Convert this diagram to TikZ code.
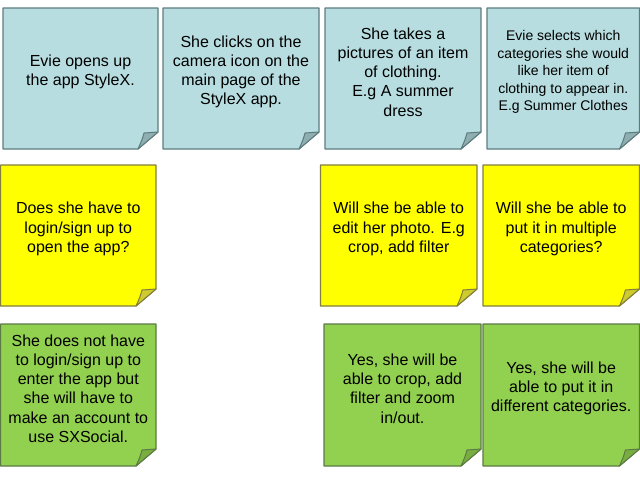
\documentclass[tikz,border=0pt]{standalone}
\usepackage{fontspec}
\setmainfont{Liberation Sans}
\definecolor{bluefill}{HTML}{B7DDE0}
\definecolor{bluefold}{HTML}{8FAEB1}
\definecolor{blueedge}{HTML}{5E7C7E}
\definecolor{yelfill}{HTML}{FFFF00}
\definecolor{yelfold}{HTML}{CDCB2E}
\definecolor{yeledge}{HTML}{827E3C}
\definecolor{grnfill}{HTML}{92D050}
\definecolor{grnfold}{HTML}{78AE40}
\definecolor{grnedge}{HTML}{5C7A46}
\tikzset{
  bluebody/.style={fill=bluefill,draw=blueedge,line width=1.2pt,line join=round},
  bluefoldst/.style={fill=bluefold,draw=blueedge,line width=1pt,line join=round},
  yelbody/.style={fill=yelfill,draw=yeledge,line width=1.2pt,line join=round},
  yelfoldst/.style={fill=yelfold,draw=yeledge,line width=1pt,line join=round},
  grnbody/.style={fill=grnfill,draw=grnedge,line width=1.2pt,line join=round},
  grnfoldst/.style={fill=grnfold,draw=grnedge,line width=1pt,line join=round},
  notetext/.style={align=center,inner sep=0pt,text=black,font=\fontsize{16}{19.2}\selectfont},
  smalltext/.style={align=center,inner sep=0pt,text=black,font=\fontsize{14}{17.5}\selectfont}
}
\newcommand{\stickynote}[8]{%
  \draw[#6body] ({#2},{#3}) -- ({#4},{#3}) -- ({#4},{#5-17}) -- ({#4-20},{#5}) -- ({#2},{#5}) -- cycle;
  \draw[#6foldst] ({#4-20},{#5}) .. controls ({#4-16},{#5-9}) .. ({#4-14},{#5-16}) -- ({#4},{#5-17}) -- cycle;
  \node[#7] (#1) at ({(#2+#4)/2},{(#3+#5)/2-6.5}) {#8};
}
\begin{document}
\begin{tikzpicture}[x=1pt,y=-1pt]
\useasboundingbox (0,0) rectangle (640,480);
\fill[white] (0,0) rectangle (640,480);
% row 1
\stickynote{b1}{3}{8}{158}{149}{blue}{notetext}{Evie opens up\\the app StyleX.}
\stickynote{b2}{163}{8}{319}{149}{blue}{notetext}{She clicks on the\\camera icon on the\\main page of the\\StyleX app.}
\stickynote{b3}{325}{8}{481}{149}{blue}{notetext}{She takes a\\pictures of an item\\of clothing.\\E.g A summer\\dress}
\stickynote{b4}{487}{8}{639.5}{149}{blue}{smalltext}{Evie selects which\\categories she would\\like her item of\\clothing to appear in.\\E.g Summer Clothes}
% row 2
\stickynote{y1}{0.6}{165}{156}{306}{yel}{notetext}{Does she have to\\login/sign up to\\open the app?}
\stickynote{y2}{320.5}{165}{477}{306}{yel}{notetext}{Will she be able to\\edit her photo. E.g\\crop, add filter}
\stickynote{y3}{483}{165}{639.4}{306}{yel}{notetext}{Will she be able to\\put it in multiple\\categories?}
% row 3
\stickynote{g1}{0.6}{324}{156}{466}{grn}{notetext}{She does not have\\to login/sign up to\\enter the app but\\she will have to\\make an account to\\use SXSocial.}
\stickynote{g2}{324}{324}{481}{466}{grn}{notetext}{Yes, she will be\\able to crop, add\\filter and zoom\\in/out.}
\stickynote{g3}{483}{324}{639.4}{466}{grn}{notetext}{Yes, she will be\\able to put it in\\different categories.}
\end{tikzpicture}
\end{document}
